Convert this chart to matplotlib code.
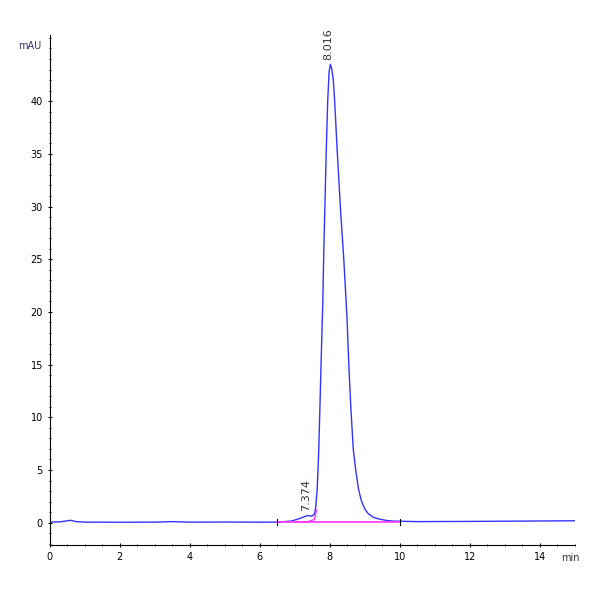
import matplotlib.pyplot as plt
from matplotlib.ticker import MultipleLocator

# trace points (min, mAU)
time = [0, 0.3, 0.5, 0.6, 0.75, 1.0, 2.0, 3.0, 3.5, 4.0, 5.0, 6.0, 6.5, 6.9, 7.1, 7.3, 7.374,
        7.48, 7.56, 7.6, 7.64, 7.68, 7.71, 7.75, 7.8, 7.83, 7.86, 7.9, 7.94, 7.98, 8.016,
        8.06, 8.1, 8.14, 8.2, 8.25, 8.31, 8.4, 8.49, 8.55, 8.6, 8.67, 8.74, 8.82,
        8.9, 9.0, 9.1, 9.25, 9.4, 9.6, 9.8, 10.5, 12.0, 13.5, 15.0]
signal = [0.05, 0.08, 0.18, 0.22, 0.1, 0.05, 0.04, 0.05, 0.1, 0.05, 0.06, 0.05, 0.05, 0.15, 0.35, 0.6, 0.68,
          0.62, 0.8, 1.5, 3.2, 6.5, 10, 15, 21, 26, 30, 35.5, 40, 42.8, 43.5,
          43, 42, 40, 36, 33, 29.5, 25, 19.5, 14.5, 11, 7, 5, 3.2,
          2.1, 1.3, 0.85, 0.5, 0.35, 0.22, 0.15, 0.1, 0.12, 0.15, 0.18]

base_t = [6.5, 10.0]
base_y = [0.05, 0.05]
peaks = [7.374, 8.016]
peak_h = [0.7, 43.5]

fig = plt.figure(figsize=(6, 6), dpi=100)
ax = fig.add_axes([0.083, 0.092, 0.875, 0.85])
ax.plot(time, signal, color='#3333ff', lw=1.0)
ax.plot(base_t, base_y, color='#ff33ff', lw=1.2)
ax.plot([7.0, 7.374, 7.56, 7.62], [0.05, 0.1, 0.3, 1.2], color='#ff33ff', lw=1.0)
for t in base_t:
    ax.plot([t, t], [-0.25, 0.35], color='black', lw=0.8)

for t, h in zip(peaks, peak_h):
    ax.text(t - 0.05, h + 0.4, f'{t:.3f}', rotation=90, ha='center', va='bottom',
            fontsize=8, color='#333333')

ax.set_xlim(0, 15)
ax.set_ylim(-2.1, 46.3)
ax.xaxis.set_major_locator(MultipleLocator(2))
ax.xaxis.set_minor_locator(MultipleLocator(0.5))
ax.set_yticks([0, 5, 10, 15, 20, 25, 30, 35, 40])
ax.yaxis.set_minor_locator(MultipleLocator(1))
for s in ['top', 'right']:
    ax.spines[s].set_visible(False)
ax.tick_params(labelsize=7, length=3, direction='inout')
ax.tick_params(which='minor', length=2, direction='inout')
ax.text(-0.25, 45.2, 'mAU', ha='right', va='center', fontsize=7, color='#333366')
ax.text(14.6, -2.9, 'min', ha='left', va='top', fontsize=7, color='#333333', clip_on=False)

plt.savefig('out.png')
